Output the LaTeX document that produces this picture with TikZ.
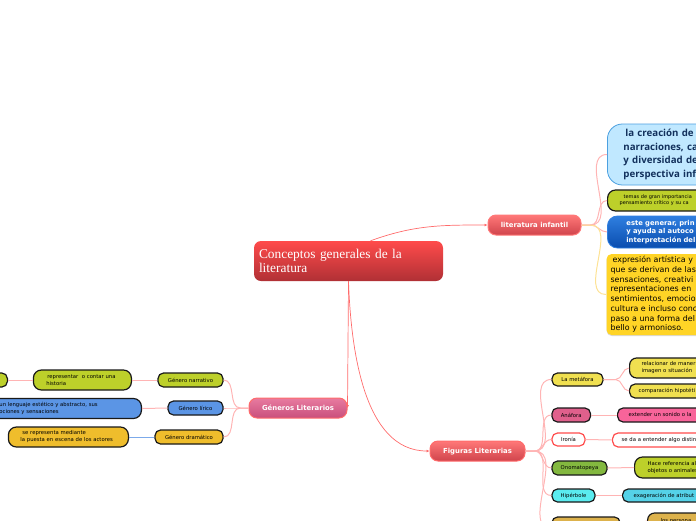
\documentclass[tikz,border=0pt]{standalone}
\usepackage{fontspec}
\setmainfont{DejaVu Sans}
\newfontfamily\serifroot{Liberation Serif}
\newfontfamily\bigfont{Open Sans}
\usetikzlibrary{arrows.meta,shadows}
\definecolor{olive}{HTML}{BDD02A}
\definecolor{skyb}{HTML}{5B95E5}
\definecolor{amber}{HTML}{EFBD2C}
\definecolor{lemon}{HTML}{F0E050}
\definecolor{rose}{HTML}{F8649A}
\definecolor{rosedark}{HTML}{E0608C}
\definecolor{leaf}{HTML}{83B83F}
\definecolor{cyanA}{HTML}{5AEBEF}
\definecolor{cyanB}{HTML}{55D2E8}
\definecolor{sand}{HTML}{DDB24C}
\definecolor{gold}{HTML}{FFD426}
\definecolor{pale}{HTML}{C0E8FF}
\definecolor{paleline}{HTML}{4CA0E0}
\definecolor{navy}{HTML}{12305C}
\definecolor{linkred}{HTML}{FF6B6B}
\definecolor{linkpink}{HTML}{FFB4B4}
\definecolor{rootA}{HTML}{FF4B4B}
\definecolor{rootB}{HTML}{B03035}
\definecolor{redA}{HTML}{FF7878}
\definecolor{redB}{HTML}{D0444C}
\definecolor{pinkA}{HTML}{E87BA0}
\definecolor{pinkB}{HTML}{C94F7C}
\definecolor{blueA}{HTML}{2F7FE0}
\definecolor{blueB}{HTML}{0A4DAF}
\tikzset{
  topic/.style={draw=#1,line width=1pt,rounded corners=8pt,text=white,
    font=\bfseries\fontsize{6.9}{8}\selectfont,inner sep=0pt,minimum height=20pt,text depth=0pt},
  small/.style={draw=black!90,line width=1.2pt,rounded corners=5.5pt,
    font=\fontsize{5.3}{7}\selectfont,text=black,inner sep=0pt,align=center},
  clipright/.style={small,anchor=west,align=left,inner xsep=#1,text width=160pt},
  clipleft/.style={small,anchor=east,align=left,inner xsep=10pt,text width=132pt},
  rootlink/.style={draw=linkred,line width=0.7pt,-{Latex[length=3pt,width=3pt]}},
  link/.style={draw=linkpink,line width=1pt},
}
\begin{document}
\begin{tikzpicture}[x=1pt,y=-1pt]
  \path[use as bounding box,clip] (0,0) rectangle (696,520);
  % centre
  \node[rounded corners=7pt,top color=rootA,bottom color=rootB,minimum width=189pt,minimum height=40pt,
    text width=179pt,inner xsep=5pt,inner ysep=0pt,align=left,text=white,font=\serifroot\fontsize{13.4}{14}\selectfont] (root) at (348.5,261) {Conceptos generales de la\\literatura};
  % main topics
  \node[topic=redA,top color=redA,bottom color=redB,minimum width=93pt] (infantil) at (534.5,225) {literatura infantil};
  \node[topic=linkred,top color=pinkA,bottom color=pinkB,minimum width=98pt] (generos) at (298,408) {Géneros Literarios};
  \node[topic=linkred,top color=redA,bottom color=redB,minimum width=95pt] (figuras) at (477.5,451) {Figuras Literarias};
  % left side
  \node[small,fill=olive,minimum width=65pt,minimum height=14pt] (narrativo) at (190.5,380) {Género narrativo};
  \node[small,fill=skyb,minimum width=55pt,minimum height=14pt] (lirico) at (195.5,408) {Género lírico};
  \node[small,fill=amber,minimum width=68pt,minimum height=14pt] (dramatico) at (189,437) {Género dramático};
  \node[small,fill=olive,rounded corners=8pt,anchor=east,align=left,inner xsep=13pt,text width=72pt,minimum height=20pt] (contar) at (132,380) {\hspace*{1pt}representar\ \ o contar una\\historia};
  \node[small,fill=olive,anchor=east,minimum width=30pt,minimum height=14pt] (narrativotip) at (8,380) {};
  \node[clipleft,fill=skyb,rounded corners=8pt,minimum height=20pt] (lenguaje) at (142,408.5) {un lenguaje estético y abstracto, sus\\ociones y sensaciones};
  \node[small,fill=amber,rounded corners=8pt,anchor=east,align=left,inner xsep=12pt,text width=96pt,minimum height=20pt] (escena) at (129,437) {\hspace*{2pt}se representa mediante\\la puesta en escena de los actores};
  % literatura infantil
  \node[clipright=16pt,fill=pale,draw=paleline,line width=0.8pt,text=navy,rounded corners=15pt,minimum height=61pt,
    font=\bigfont\bfseries\fontsize{9.7}{13.5}\selectfont] (creacion) at (607,154.5) {\hspace*{2pt}la creación de\\narraciones, ca\\y diversidad de\\perspectiva inf};
  \node[clipright=12pt,fill=olive,rounded corners=8pt,minimum height=21pt,font=\fontsize{5}{6}\selectfont] (temas) at (607,200.5) {\hspace*{4pt}temas de gran importancia\\pensamiento crítico y su ca};
  \node[clipright=19pt,draw=blueA,line width=0.8pt,top color=blueA,bottom color=blueB,text=white,rounded corners=10pt,minimum height=32pt,
    font=\bfseries\fontsize{6.8}{8.5}\selectfont] (este) at (607,232) {este generar, prin\\y ayuda al autoco\\interpretación del};
  \node[clipright=4pt,draw=none,fill=gold,text=black,rounded corners=5pt,minimum height=81pt,
    drop shadow={shadow xshift=0pt,shadow yshift=-1pt,opacity=0.3},
    font=\fontsize{7.9}{9.7}\selectfont] (artistica) at (606,294.5) {\hspace*{2pt}expresión artística y\\que se derivan de las\\sensaciones, creativi\\representaciones en\\sentimientos, emocio\\cultura e incluso conc\\paso a una forma del\\bello y armonioso.};
  % figuras
  \node[small,fill=lemon,minimum width=51pt,minimum height=13pt] (metafora) at (577.5,379.5) {La metáfora};
  \node[clipright=12pt,fill=lemon,rounded corners=7pt,minimum height=20pt] (relacionar) at (629,368) {relacionar de maner\\imagen o situación};
  \node[clipright=9pt,fill=lemon,minimum height=14pt] (comparacion) at (629,391) {comparación hipotéti};
  \node[small,fill=rosedark,minimum width=38.5pt,minimum height=14pt] (anafora) at (571.2,415) {Anáfora};
  \node[clipright=11pt,fill=rose,minimum height=14pt] (extender) at (617,415) {extender un sonido o la};
  \node[small,fill=white,draw=red!70,minimum width=33pt,minimum height=13pt] (ironia) at (568.5,439.5) {Ironía};
  \node[clipright=9pt,fill=white,draw=red!70,minimum height=14pt] (sedaa) at (612,440) {se da a entender algo distin};
  \node[small,fill=leaf,minimum width=55pt,minimum height=14pt] (onomatopeya) at (579.5,468) {Onomatopeya};
  \node[clipright=13pt,fill=olive,rounded corners=8pt,minimum height=21pt] (hace) at (634,467.5) {Hace referencia al\\objetos o animales};
  \node[small,fill=cyanA,minimum width=43pt,minimum height=13pt] (hiperbole) at (573.5,495.5) {Hipérbole};
  \node[clipright=11pt,fill=cyanB,minimum height=13pt] (exageracion) at (622,495.5) {exageración de atribut};
  \node[small,fill=sand,minimum width=68pt,minimum height=23pt] (ultima) at (586,528.5) {};
  \node[clipright=13pt,fill=sand,rounded corners=7pt,minimum height=16pt] (personajes) at (647,521) {los persona};
  % connectors
  \draw[rootlink] (root.north) ++(22,0) to[out=20,in=180] (infantil.west);
  \draw[rootlink] (root.south) -- (generos.east);
  \draw[rootlink] (root.south) to[out=-88,in=180,looseness=0.9] (figuras.west);
  \foreach \child in {creacion,temas,este}{
    \draw[link] (infantil.east) -- ++(9,0) to[out=0,in=180] (\child.west);
  }
  \draw[link,draw=yellow!50!orange!40] (infantil.east) -- ++(9,0) to[out=0,in=180] (artistica.west);
  \foreach \child in {metafora,anafora,ironia,onomatopeya,hiperbole,ultima}{
    \draw[link] (figuras.east) -- ++(9,0) to[out=0,in=180] (\child.west);
  }
  \foreach \child in {narrativo,lirico,dramatico}{
    \draw[link] (generos.west) -- ++(-8,0) to[out=180,in=0] (\child.east);
  }
  \foreach \child in {relacionar,comparacion}{
    \draw[link] (metafora.east) -- ++(12,0) to[out=0,in=180] (\child.west);
  }
  \draw[link] (narrativo.west) -- (contar.east);
  \draw[link] (contar.west) -- (narrativotip.east);
  \draw[link] (lirico.west) -- (lenguaje.east);
  \draw[draw=skyb!80,line width=0.8pt] (dramatico.west) -- (escena.east);
  \draw[link] (anafora.east) -- (extender.west);
  \draw[link] (ironia.east) -- (sedaa.west);
  \draw[link] (onomatopeya.east) -- (hace.west);
  \draw[link] (hiperbole.east) -- (exageracion.west);
  \draw[link] (ultima.east) -- (personajes.west);
\end{tikzpicture}
\end{document}
